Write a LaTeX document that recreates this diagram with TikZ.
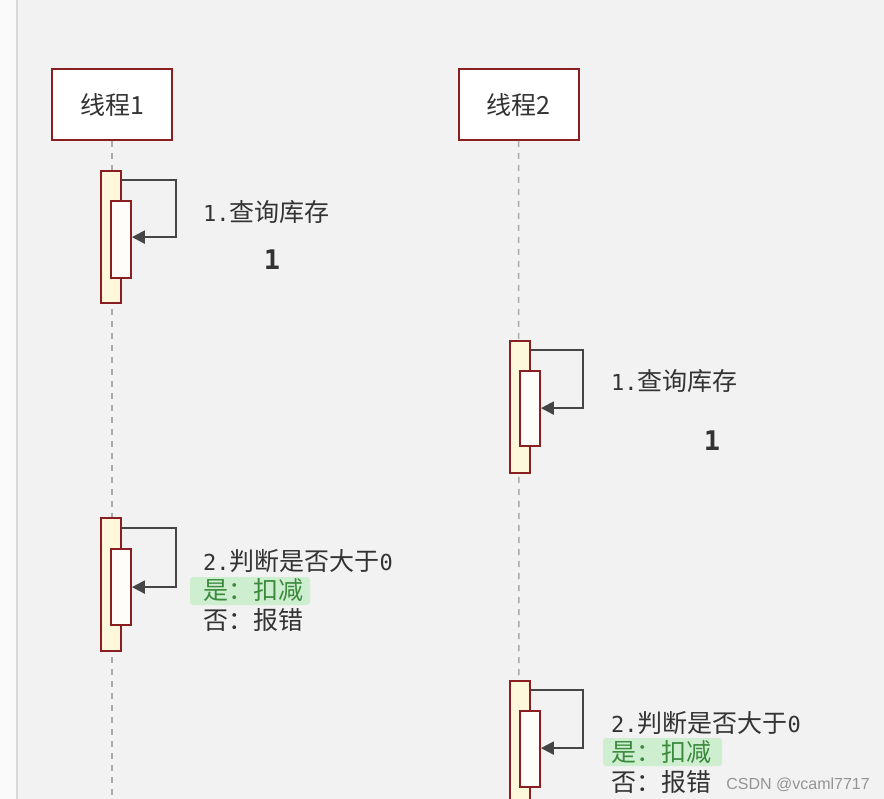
\documentclass[tikz,border=0pt]{standalone}
\usepackage{fontspec}
\newfontfamily\cjk{Noto Sans CJK SC}
\newfontfamily\mono{DejaVu Sans Mono}
\newfontfamily\wmfont{Liberation Sans}
\usetikzlibrary{arrows.meta,calc}
\definecolor{bg}{HTML}{F2F2F2}
\definecolor{edge}{HTML}{8A1F22}
\definecolor{actfill}{HTML}{FDF8DC}
\definecolor{innerfill}{HTML}{FFFDF9}
\definecolor{arrowc}{HTML}{454545}
\definecolor{txt}{HTML}{333333}
\definecolor{hl}{HTML}{CDEFCF}
\definecolor{hltxt}{HTML}{3C8A3E}
\definecolor{life}{HTML}{AAAAAA}
\newcommand{\cj}[1]{{\cjk\fontsize{25}{27}\selectfont #1}}
\begin{document}
\begin{tikzpicture}[x=1pt,y=-1pt,
  head/.style={draw=edge,line width=2pt,fill=white,minimum width=120pt,minimum height=71pt,inner sep=0pt,font={\cjk\fontsize{25}{28}\selectfont},text=txt},
  actbox/.style={draw=edge,line width=1.8pt,fill=actfill,minimum width=20pt,inner sep=0pt},
  innerbox/.style={draw=edge,line width=1.8pt,fill=innerfill,minimum width=20pt,inner sep=0pt},
  selfarrow/.style={draw=arrowc,line width=2.2pt,-{Triangle[length=13pt,width=13pt]}},
  lifeline/.style={draw=life,line width=1.5pt,dash pattern=on 6pt off 6pt},
  lbl/.style={anchor=base west,inner sep=0pt,text=txt,font={\mono\fontsize{22}{26}\selectfont}},
  hllbl/.style={anchor=base west,inner sep=0pt,text=hltxt,font={\mono\fontsize{22}{26}\selectfont}},
  big/.style={anchor=base,inner sep=0pt,text=txt,font={\mono\bfseries\fontsize{27}{30}\selectfont}},
  hlbox/.style={fill=hl,draw=none,rounded corners=3pt}
]
\useasboundingbox (0,0) rectangle (884,799);
\clip (0,0) rectangle (884,799);
\fill[bg] (0,0) rectangle (884,799);
\fill[white!60!bg] (0,0) rectangle (16,799);
\draw[black!15,line width=1.5pt] (17,0) -- (17,799);

% headers
\node[head] (h1) at (112,104.5) {线程1};
\node[head] (h2) at (518.5,104.5) {线程2};
\coordinate (e1) at (112,799);
\coordinate (e2) at (519,799);
\draw[lifeline] (h1.south) -- (e1);
\draw[lifeline] (h2.south) -- (e2);

% thread 1, step 1
\node[actbox,minimum height=132pt] (o1a) at (111,237) {};
\node[innerbox,minimum height=77pt] (i1a) at (121,239.5) {};
\draw[selfarrow] ([yshift=-10pt]o1a.north east) -- ++(54,0) |- ([yshift=-37pt]i1a.north east);
\node[lbl] (t1a) at (203,222) {1.\cj{查询库存}};
\node[big] (n1a) at (272,270) {1};

% thread 2, step 1
\node[actbox,minimum height=132pt] (o2a) at (520,407) {};
\node[innerbox,minimum height=75pt] (i2a) at (530,408.5) {};
\draw[selfarrow] ([yshift=-10pt]o2a.north east) -- ++(52,0) |- ([yshift=-38pt]i2a.north east);
\node[lbl] (t2a) at (611,391) {1.\cj{查询库存}};
\node[big] (n2a) at (712,451) {1};

% thread 1, step 2
\node[actbox,minimum height=133pt] (o1b) at (111,584.5) {};
\node[innerbox,minimum height=76pt] (i1b) at (121,587) {};
\draw[selfarrow] ([yshift=-11pt]o1b.north east) -- ++(54,0) |- ([yshift=-39pt]i1b.north east);
\node[hlbox,minimum width=120pt,minimum height=28pt] (g1) at (250,591) {};
\node[lbl] (t1b) at (203,570) {2.\cj{判断是否大于}0};
\node[hllbl] (y1b) at (203,599) {\cj{是：扣减}};
\node[lbl] (n1b) at (203,629) {\cj{否：报错}};

% thread 2, step 2
\node[actbox,minimum height=140pt] (o2b) at (520,751) {};
\node[innerbox,minimum height=76pt] (i2b) at (530,749) {};
\draw[selfarrow] ([yshift=-10pt]o2b.north east) -- ++(52,0) |- ([yshift=-38pt]i2b.north east);
\node[hlbox,minimum width=119pt,minimum height=28pt] (g2) at (662.5,752) {};
\node[lbl] (t2b) at (611,732) {2.\cj{判断是否大于}0};
\node[hllbl] (y2b) at (611,761) {\cj{是：扣减}};
\node[lbl] (n2b) at (611,791) {\cj{否：报错}};

% watermark
\node[anchor=base east,inner sep=0pt,text=black!42,font={\wmfont\fontsize{16}{18}\selectfont}] (wm) at (870,789) {CSDN @vcaml7717};
\end{tikzpicture}
\end{document}
